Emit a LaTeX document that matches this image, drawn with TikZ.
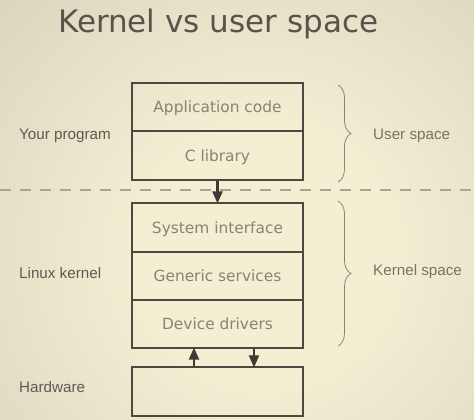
\documentclass[tikz,border=0pt]{standalone}
\usepackage{fontspec}
\setmainfont{DejaVu Sans}
\newfontfamily\arialfont{Liberation Sans}
\usetikzlibrary{arrows.meta,decorations.pathreplacing}
\definecolor{bgin}{HTML}{F3EFD3}
\definecolor{bgmid}{HTML}{D6D2BB}
\definecolor{bgout}{HTML}{ABA794}
\definecolor{titlecol}{HTML}{5B524B}
\definecolor{leftcol}{HTML}{5F5A50}
\definecolor{rightcol}{HTML}{7A7364}
\definecolor{boxtext}{HTML}{8A8272}
\definecolor{boxline}{HTML}{4F4840}
\definecolor{arrcol}{HTML}{3F3834}
\definecolor{dashcol}{HTML}{A9A595}
\definecolor{bracecol}{HTML}{8A8474}
\pgfdeclareradialshading{bgshade}{\pgfpoint{0bp}{0bp}}{color(0bp)=(bgin); color(6bp)=(bgin); color(20bp)=(bgmid); color(36bp)=(bgout); color(50bp)=(bgout)}
\tikzset{
  layerbox/.style={draw=boxline, line width=1.2pt, minimum width=171pt, inner sep=0pt,
    text=boxtext, font=\fontsize{15.4}{18}\selectfont, text height=11.2pt, text depth=0pt},
  sidelabel/.style={anchor=base west, inner sep=0pt, font=\arialfont\fontsize{15.2}{18}\selectfont},
  flowarrow/.style={draw=arrcol, line width=2.2pt, -{Triangle[length=12pt,width=10pt]}, shorten >=-1pt},
  bracestyle/.style={draw=bracecol, line width=0.8pt, decorate, decoration={brace, amplitude=13pt}},
}
\begin{document}
\begin{tikzpicture}[x=1pt,y=-1pt]
\useasboundingbox (0,0) rectangle (474,420);
\begin{scope}
\clip (0,0) rectangle (474,420);
\shade[shading=bgshade] (265,255) circle (520);
\end{scope}
% title
\node[anchor=base west, inner sep=0pt, text=titlecol, font=\fontsize{31}{36}\selectfont] (title) at (58,33) {Kernel vs user space};
% dashed separator
\coordinate (dl) at (0,190);
\coordinate (dr) at (474,190);
\draw[dashcol, line width=1.2pt, dash pattern=on 11pt off 9pt] (dl) -- (dr);
% boxes
\node[layerbox, minimum height=48pt] (app) at (217.5,107) {Application code};
\node[layerbox, minimum height=49pt] (clib) at (217.5,155.5) {C library};
\node[layerbox, minimum height=49pt] (sys) at (217.5,227.5) {System interface};
\node[layerbox, minimum height=48pt] (gen) at (217.5,276) {Generic services};
\node[layerbox, minimum height=48pt] (dev) at (217.5,324) {Device drivers};
\node[layerbox, minimum height=49pt] (hw) at (217.5,391.5) {};
% arrows
\draw[flowarrow] (clib.south) -- (sys.north);
\draw[flowarrow] ([xshift=-23.5pt]hw.north) -- ([xshift=-23.5pt]dev.south);
\draw[flowarrow] ([xshift=36.5pt]dev.south) -- ([xshift=36.5pt]hw.north);
% left labels
\node[sidelabel, text=leftcol] (yp) at (19,139) {Your program};
\node[sidelabel, text=leftcol] (lk) at (19,278) {Linux kernel};
\node[sidelabel, text=leftcol] (hwl) at (19,392.5) {Hardware};
% braces
\coordinate (ub1) at (338,85);
\coordinate (ub2) at (338,182);
\coordinate (kb1) at (338,201);
\coordinate (kb2) at (338,346);
\draw[bracestyle] (ub1) -- (ub2);
\draw[bracestyle] (kb1) -- (kb2);
% right labels
\node[sidelabel, text=rightcol] (us) at (373,139.3) {User space};
\node[sidelabel, text=rightcol] (ks) at (373,275.5) {Kernel space};
\end{tikzpicture}
\end{document}
